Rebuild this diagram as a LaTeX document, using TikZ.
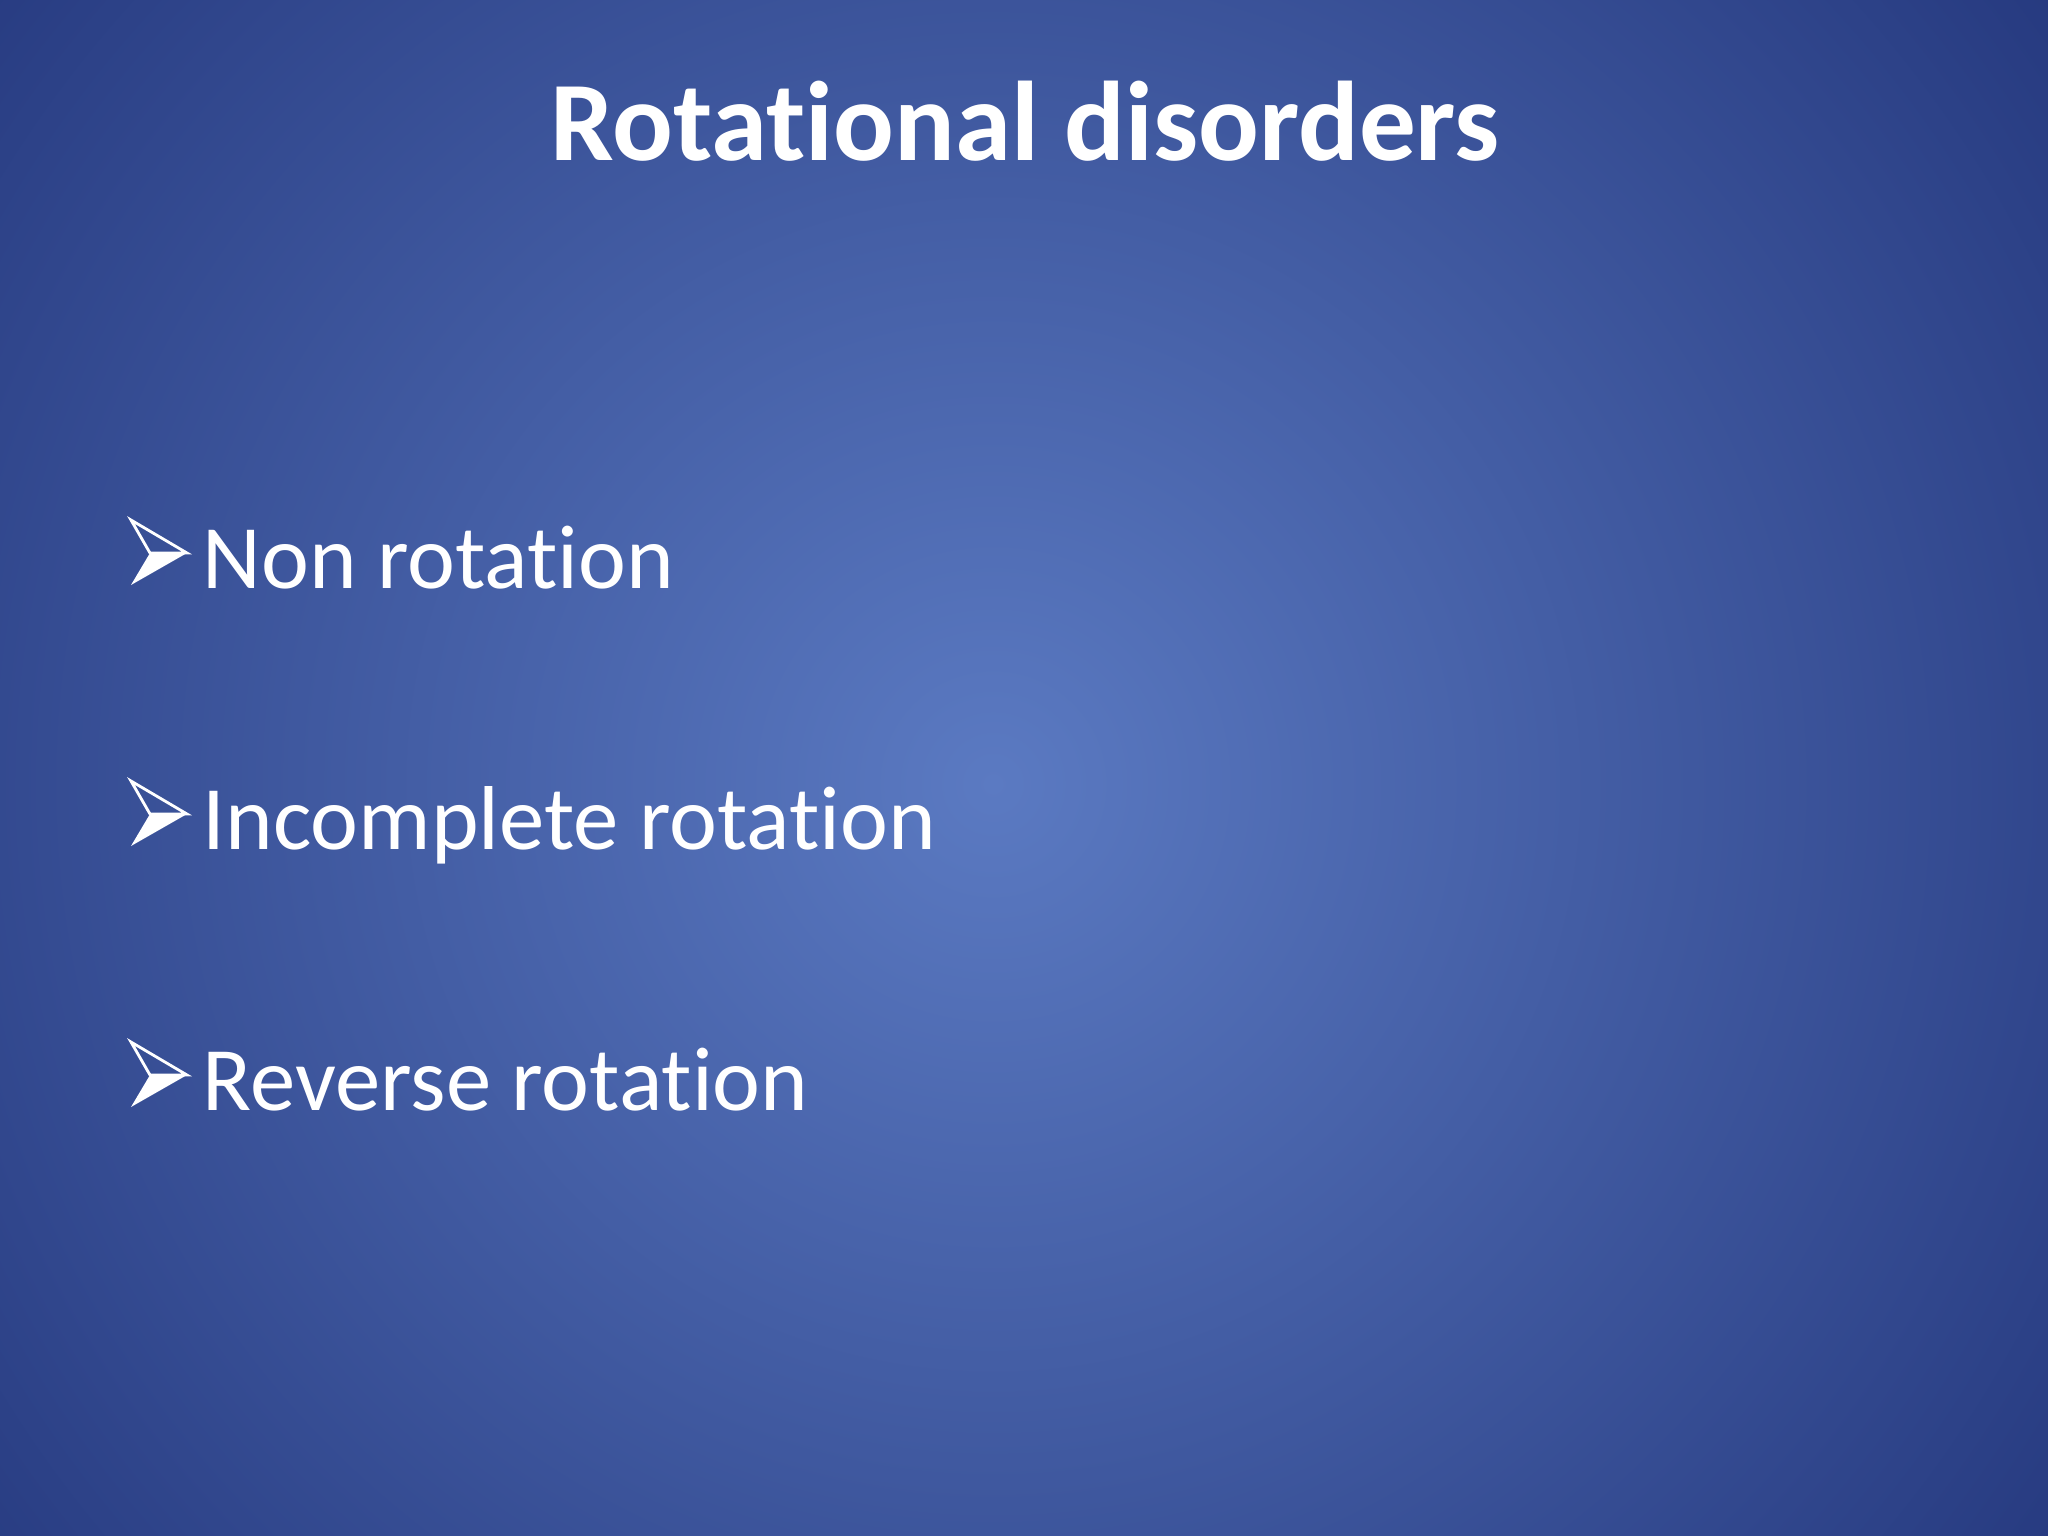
\documentclass[tikz,border=0pt]{standalone}
\usepackage{fontspec}
\setmainfont{Carlito}[Ligatures={NoCommon,NoContextual}]
\definecolor{bgin}{HTML}{5B7AC2}
\definecolor{bgout}{HTML}{15256A}
\tikzset{
  item/.style={anchor=base west,inner sep=0pt,text=white,font=\fontsize{25.8}{31}\selectfont},
  ttl/.style={anchor=base,inner sep=0pt,text=white,font=\bfseries\fontsize{32.2}{40}\selectfont},
}
\newcommand{\bul}[1]{%
  \draw[white,line width=0.8pt,line join=miter] (131,#1-33) -- (187,#1) -- (150,#1) -- cycle;
  \fill[white] (187,#1) -- (131,#1+32) -- (150,#1) -- cycle;
}
\begin{document}
\begin{tikzpicture}[x=0.01cm,y=-0.01cm]
\useasboundingbox (0,0) rectangle (2048,1536);
\clip (0,0) rectangle (2048,1536);
\shade[inner color=bgin,outer color=bgout] (993,784) circle (1750);
\node[ttl] (title) at (1025,160) {Rotational disorders};
\bul{553}
\node[item] (i1) at (202,588) {Non rotation};
\bul{814}
\node[item] (i2) at (202,849) {Incomplete rotation};
\bul{1075}
\node[item] (i3) at (202,1110) {Reverse rotation};
\end{tikzpicture}
\end{document}
